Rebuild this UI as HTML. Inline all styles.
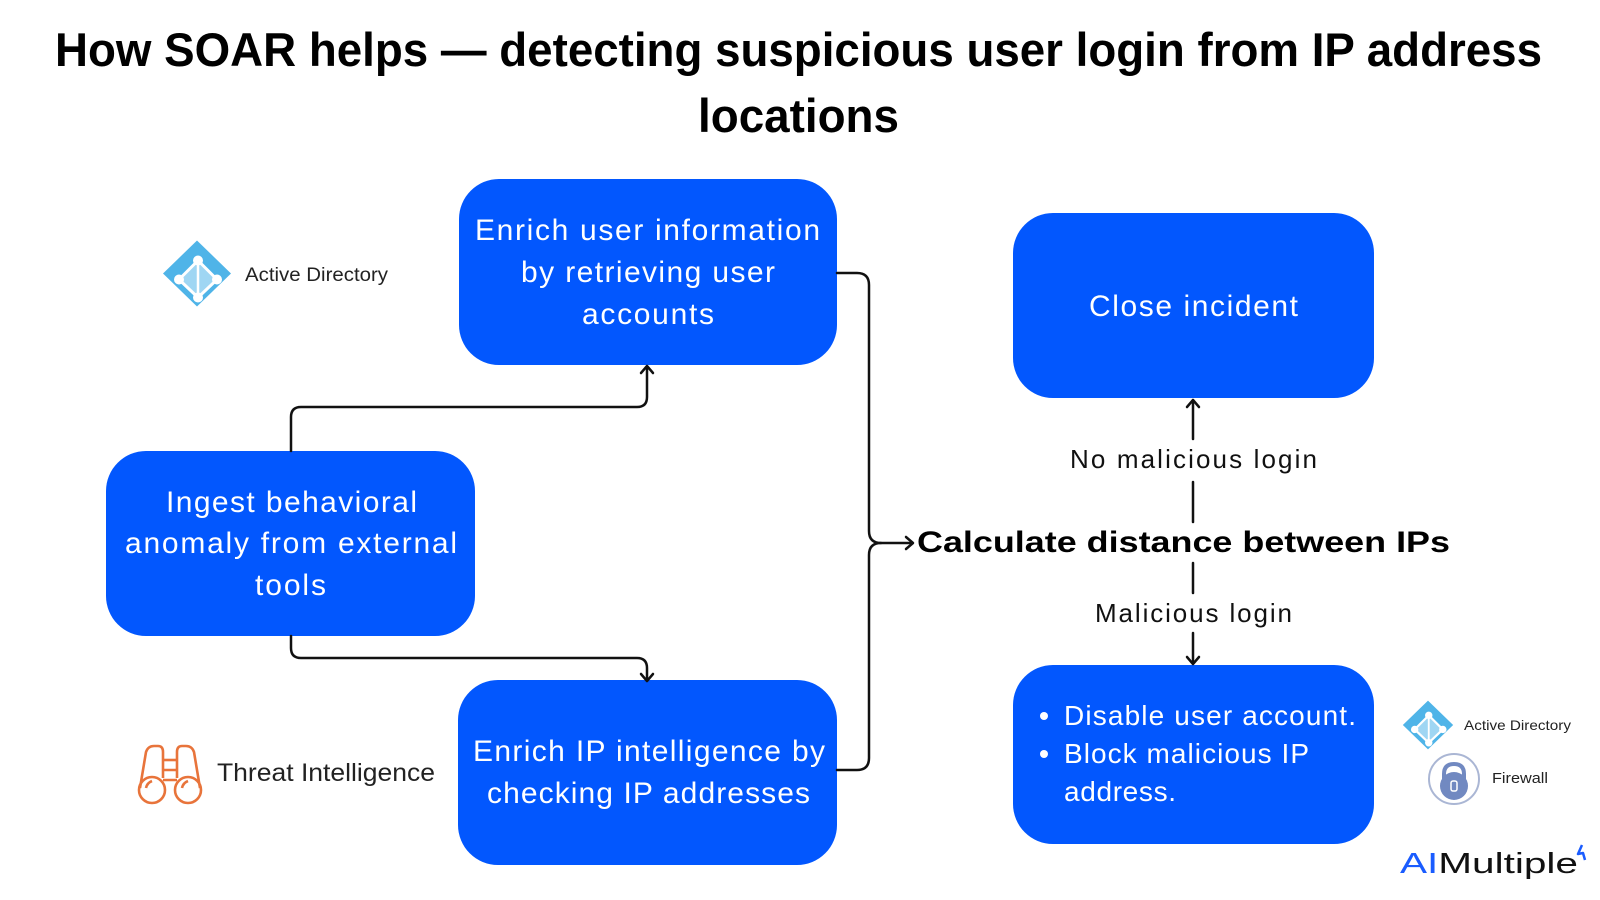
<!DOCTYPE html>
<html>
<head>
<meta charset="utf-8">
<style>
  html,body{margin:0;padding:0;background:#fff;}
  svg{display:block;}
  .t{font-family:"Liberation Sans",sans-serif;}
</style>
</head>
<body>
<svg width="1600" height="900" viewBox="0 0 1600 900" xmlns="http://www.w3.org/2000/svg">
  <rect width="1600" height="900" fill="#fff"/>

  <!-- Title -->
  <text class="t" x="55" y="66" font-size="47" font-weight="bold" fill="#000" textLength="1487" lengthAdjust="spacingAndGlyphs">How SOAR helps — detecting suspicious user login from IP address</text>
  <text class="t" x="698" y="132" font-size="47" font-weight="bold" fill="#000" textLength="201" lengthAdjust="spacingAndGlyphs">locations</text>

  <!-- Boxes -->
  <rect x="459" y="179" width="378" height="186" rx="40" fill="#0257fe"/>
  <rect x="106" y="451" width="369" height="185" rx="40" fill="#0257fe"/>
  <rect x="458" y="680" width="379" height="185" rx="40" fill="#0257fe"/>
  <rect x="1013" y="213" width="361" height="185" rx="40" fill="#0257fe"/>
  <rect x="1013" y="665" width="361" height="179" rx="40" fill="#0257fe"/>

  <!-- Box text -->
  <g class="t" font-size="30" fill="#fff">
    <text x="475" y="240" textLength="345" lengthAdjust="spacing">Enrich user information</text>
    <text x="521" y="282" textLength="254" lengthAdjust="spacing">by retrieving user</text>
    <text x="582" y="324" textLength="132" lengthAdjust="spacing">accounts</text>

    <text x="166" y="512" textLength="251" lengthAdjust="spacing">Ingest behavioral</text>
    <text x="125" y="553" textLength="332" lengthAdjust="spacing">anomaly from external</text>
    <text x="255" y="595" textLength="71" lengthAdjust="spacing">tools</text>

    <text x="473" y="761" textLength="352" lengthAdjust="spacing">Enrich IP intelligence by</text>
    <text x="487" y="803" textLength="323" lengthAdjust="spacing">checking IP addresses</text>

    <text x="1089" y="316" textLength="209" lengthAdjust="spacing">Close incident</text>
  </g>
  <g class="t" font-size="28" fill="#fff">
    <circle cx="1044" cy="716" r="4"/>
    <circle cx="1044" cy="754" r="4"/>
    <text x="1064" y="725" textLength="292" lengthAdjust="spacing">Disable user account.</text>
    <text x="1064" y="763" textLength="245" lengthAdjust="spacing">Block malicious IP</text>
    <text x="1064" y="801" textLength="112" lengthAdjust="spacing">address.</text>
  </g>

  <!-- Labels -->
  <text class="t" x="1070" y="468" font-size="26" fill="#111" textLength="247" lengthAdjust="spacing">No malicious login</text>
  <text class="t" x="1095" y="622" font-size="26" fill="#111" textLength="197" lengthAdjust="spacing">Malicious login</text>
  <text class="t" x="917" y="552" font-size="30" font-weight="bold" fill="#000" textLength="533" lengthAdjust="spacingAndGlyphs">Calculate distance between IPs</text>

  <!-- Connectors -->
  <g fill="none" stroke="#111" stroke-width="2.5" stroke-linecap="round" stroke-linejoin="round">
    <path d="M291,451 V417 Q291,407 301,407 H637 Q647,407 647,397 V368"/>
    <path d="M641,373 L647,366 L653,373"/>
    <path d="M291,636 V648 Q291,658 301,658 H637 Q647,658 647,668 V679"/>
    <path d="M641,674 L647,681 L653,674"/>
    <path d="M837,273 H857 Q869,273 869,285 V531 Q869,543 881,543 H912"/>
    <path d="M837,770 H857 Q869,770 869,758 V555 Q869,543 881,543"/>
    <path d="M906,537 L913,543 L906,549"/>
    <path d="M1193,439 V401"/>
    <path d="M1187,407 L1193,400 L1199,407"/>
    <path d="M1193,482 V522"/>
    <path d="M1193,563 V593"/>
    <path d="M1193,633 V663"/>
    <path d="M1187,657 L1193,664 L1199,657"/>
  </g>

  <!-- Active Directory icon (top-left) -->
  <g transform="translate(197,273.5)">
    <polygon points="0,-33 34,0 0,33 -34,0" fill="#4fb4e8"/>
    <polygon points="1,-13 -18,6 1,24 20,6" fill="#9fd6f3" stroke="#fff" stroke-width="3" stroke-linejoin="round"/>
    <line x1="1" y1="-13" x2="1" y2="24" stroke="#fff" stroke-width="2.5"/>
    <circle cx="1" cy="-13" r="5" fill="#fff"/>
    <circle cx="-18" cy="6" r="5" fill="#fff"/>
    <circle cx="20" cy="6" r="5" fill="#fff"/>
    <circle cx="1" cy="24" r="5" fill="#fff"/>
  </g>
  <text class="t" x="245" y="281" font-size="19" fill="#222" textLength="143" lengthAdjust="spacingAndGlyphs">Active Directory</text>

  <!-- Threat Intelligence icon -->
  <g fill="none" stroke="#e8743b" stroke-width="2.6" stroke-linejoin="round">
    <path d="M140,788 L146,752 Q148,746 154,746 L158,746 Q163,746 163,752 L163,778"/>
    <path d="M200,788 L194,752 Q192,746 186,746 L182,746 Q177,746 177,752 L177,778"/>
    <circle cx="152" cy="790" r="13"/>
    <circle cx="188" cy="790" r="13"/>
    <path d="M163,770 H177 M163,780 H177"/>
    <path d="M163,760 H177"/>
    <path d="M146,788 Q147,783 152,781"/>
    <path d="M182,788 Q183,783 188,781"/>
  </g>
  <text class="t" x="217" y="781" font-size="25" fill="#222" textLength="218" lengthAdjust="spacingAndGlyphs">Threat Intelligence</text>

  <!-- Active Directory icon (bottom-right) -->
  <g transform="translate(1428,725) scale(0.74)">
    <polygon points="0,-33 34,0 0,33 -34,0" fill="#4fb4e8"/>
    <polygon points="1,-13 -18,6 1,24 20,6" fill="#9fd6f3" stroke="#fff" stroke-width="3" stroke-linejoin="round"/>
    <line x1="1" y1="-13" x2="1" y2="24" stroke="#fff" stroke-width="2.5"/>
    <circle cx="1" cy="-13" r="5" fill="#fff"/>
    <circle cx="-18" cy="6" r="5" fill="#fff"/>
    <circle cx="20" cy="6" r="5" fill="#fff"/>
    <circle cx="1" cy="24" r="5" fill="#fff"/>
  </g>
  <text class="t" x="1464" y="730" font-size="14" fill="#222" textLength="107" lengthAdjust="spacingAndGlyphs">Active Directory</text>

  <!-- Firewall icon -->
  <circle cx="1454" cy="779" r="25" fill="#fff" stroke="#aab6d4" stroke-width="2"/>
  <path d="M1444,782 V774 Q1444,764 1454,764 Q1464,764 1464,774 V782" fill="none" stroke="#7189c1" stroke-width="4"/>
  <circle cx="1454" cy="786" r="14" fill="#7189c1"/>
  <rect x="1451" y="781" width="6" height="10" rx="2" fill="none" stroke="#fff" stroke-width="1.5"/>
  <text class="t" x="1492" y="783" font-size="15" fill="#222" textLength="56" lengthAdjust="spacingAndGlyphs">Firewall</text>

  <!-- AIMultiple logo -->
  <text class="t" x="1400" y="873" font-size="29" textLength="178" lengthAdjust="spacingAndGlyphs"><tspan fill="#1a5cff">AI</tspan><tspan fill="#111">Multiple</tspan></text>
  <path d="M1582,845 L1578,854 L1583,853 L1585,860" fill="none" stroke="#1a5cff" stroke-width="2.5" stroke-linejoin="round"/>
</svg>
</body>
</html>
